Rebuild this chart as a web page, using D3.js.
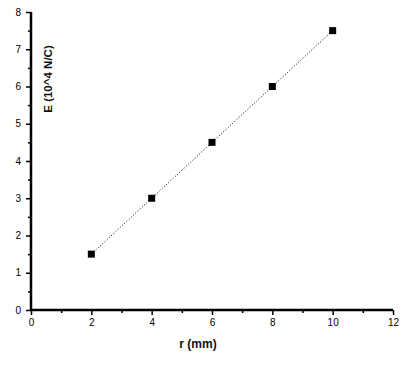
<!DOCTYPE html>
<html><head><meta charset="utf-8">
<script src="https://cdn.jsdelivr.net/npm/d3@7"></script>
<style>body{margin:0;background:#fff}svg{display:block}</style>
</head><body>
<script>
const rValues = [2, 4, 6, 8, 10];
const eValues = [1.5, 3, 4.5, 6, 7.5];
const xTicks = [0, 2, 4, 6, 8, 10, 12];
const yTicks = [0, 1, 2, 3, 4, 5, 6, 7, 8];
const xLabel = "r (mm)";
const yLabel = "E (10^4 N/C)";

const W = 419, H = 368;
const svg = d3.select("body").append("svg").attr("width", W).attr("height", H);
const x = d3.scaleLinear().domain([0, 12]).range([31, 393]);
const y = d3.scaleLinear().domain([0, 8]).range([310, 12]);
const font = "Arial, 'Liberation Sans', sans-serif";

// dotted line
const line = d3.line().x((d, i) => x(rValues[i])).y(d => y(d));
svg.append("path").datum(eValues).attr("d", line)
  .attr("fill", "none").attr("stroke", "#000").attr("stroke-width", 1)
  .attr("stroke-dasharray", "1,2");

// markers
svg.selectAll("rect.pt").data(eValues).enter().append("rect")
  .attr("x", (d, i) => x(rValues[i]) - 3.5).attr("y", d => y(d) - 3.5)
  .attr("width", 7).attr("height", 7).attr("fill", "#000");

// x axis
const xAxis = d3.axisBottom(x).tickValues(xTicks).tickSize(5).tickPadding(4).tickFormat(d3.format("d"));
const gx = svg.append("g").attr("transform", "translate(0,310)").call(xAxis);
gx.select(".domain").attr("stroke-width", 2.5).attr("d", `M${x(0)},0H${x(12)}`);
gx.selectAll(".tick line").attr("stroke-width", 1.5);
gx.selectAll("text").attr("font-family", font).attr("font-size", 10).attr("fill", "#000");
const gxm = svg.append("g").attr("transform", "translate(0,310)")
  .call(d3.axisBottom(x).tickValues(d3.range(1, 12, 2)).tickSize(3).tickFormat(""));
gxm.select(".domain").remove();
gxm.selectAll(".tick line").attr("stroke-width", 1.5);

// y axis
const yAxis = d3.axisLeft(y).tickValues(yTicks).tickSize(5).tickPadding(5).tickFormat(d3.format("d"));
const gy = svg.append("g").attr("transform", "translate(31,0)").call(yAxis);
gy.select(".domain").attr("stroke-width", 2.5).attr("d", `M0,${y(0)}V${y(8)}`);
gy.selectAll(".tick line").attr("stroke-width", 1.5);
gy.selectAll("text").attr("font-family", font).attr("font-size", 10).attr("fill", "#000");
const gym = svg.append("g").attr("transform", "translate(31,0)")
  .call(d3.axisLeft(y).tickValues(d3.range(0.5, 8, 1)).tickSize(3).tickFormat(""));
gym.select(".domain").remove();
gym.selectAll(".tick line").attr("stroke-width", 1.5);

// titles
svg.append("text").attr("x", 198).attr("y", 348).attr("text-anchor", "middle")
  .attr("font-family", font).attr("font-weight", "bold").attr("font-size", 12)
  .attr("fill", "#111").text(xLabel);
svg.append("text").attr("transform", "translate(52,79) rotate(-90)").attr("text-anchor", "middle")
  .attr("font-family", font).attr("font-weight", "bold").attr("font-size", 11.5)
  .attr("fill", "#111").text(yLabel);
</script>
</body></html>
